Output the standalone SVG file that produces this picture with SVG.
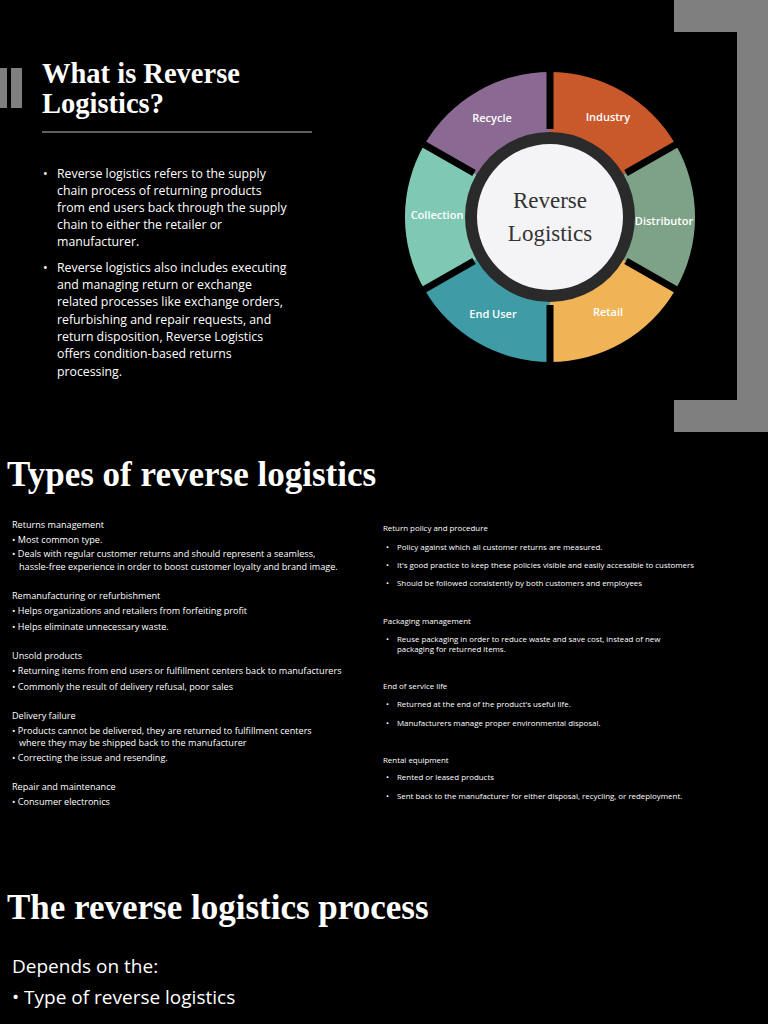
<svg xmlns="http://www.w3.org/2000/svg" width="768" height="1024" viewBox="0 0 768 1024">
<style>
.t{font-family:"Liberation Serif",serif;font-weight:bold;fill:#fff}
.b{font-family:"Open Sans","Liberation Sans",sans-serif;fill:#fff;font-size:12.3px}
.s{font-family:"Open Sans","Liberation Sans",sans-serif;fill:#fff;font-size:9.1px}
.r{font-family:"Open Sans","Liberation Sans",sans-serif;fill:#fff;font-size:7.9px}
.w{font-family:"Open Sans","Liberation Sans",sans-serif;fill:#fff;font-size:11px;font-weight:600;text-anchor:middle}
.gap{stroke:#000;stroke-width:7}
</style>
<rect width="768" height="1024" fill="#000"/>
<rect x="674" y="0" width="94" height="432" fill="#7f7f7f"/>
<rect x="674" y="32" width="63" height="368" fill="#000"/>
<rect x="0" y="68" width="7" height="40" fill="#7f7f7f"/>
<rect x="11" y="68" width="11" height="40" fill="#7f7f7f"/>
<text class="t" font-size="28.5" x="42" y="83">What is Reverse</text>
<text class="t" font-size="28.5" x="42" y="113">Logistics?</text>
<line x1="42" y1="132" x2="312" y2="132" stroke="#808080" stroke-width="1.5"/>
<g class="b">
<text x="43" y="178">•</text>
<text x="57" y="178">Reverse logistics refers to the supply</text>
<text x="57" y="195">chain process of returning products</text>
<text x="57" y="212">from end users back through the supply</text>
<text x="57" y="229">chain to either the retailer or</text>
<text x="57" y="246">manufacturer.</text>
<text x="43" y="272">•</text>
<text x="57" y="272">Reverse logistics also includes executing</text>
<text x="57" y="289">and managing return or exchange</text>
<text x="57" y="306">related processes like exchange orders,</text>
<text x="57" y="324">refurbishing and repair requests, and</text>
<text x="57" y="341">return disposition, Reverse Logistics</text>
<text x="57" y="358">offers condition-based returns</text>
<text x="57" y="376">processing.</text>
</g>
<g id="wheel">
<circle cx="550" cy="217" r="92" fill="#2a2a2a"/>
<g id="recycle"><path d="M424.4,144.5 A145,145 0 0 1 550,72 L550,132 A85,85 0 0 0 476.4,174.5 Z" fill="#8a6a93"/><text class="w" x="492" y="122">Recycle</text></g>
<g id="industry"><path d="M550,72 A145,145 0 0 1 675.6,144.5 L623.6,174.5 A85,85 0 0 0 550,132 Z" fill="#c9582a"/><text class="w" x="608" y="121">Industry</text></g>
<g id="distributor"><path d="M675.6,144.5 A145,145 0 0 1 675.6,289.5 L623.6,259.5 A85,85 0 0 0 623.6,174.5 Z" fill="#7ea287"/><text class="w" x="664" y="225">Distributor</text></g>
<g id="retail"><path d="M675.6,289.5 A145,145 0 0 1 550,362 L550,302 A85,85 0 0 0 623.6,259.5 Z" fill="#f0b457"/><text class="w" x="608" y="316">Retail</text></g>
<g id="enduser"><path d="M550,362 A145,145 0 0 1 424.4,289.5 L476.4,259.5 A85,85 0 0 0 550,302 Z" fill="#3f9ba6"/><text class="w" x="493" y="318">End User</text></g>
<g id="collection"><path d="M424.4,289.5 A145,145 0 0 1 424.4,144.5 L476.4,174.5 A85,85 0 0 0 476.4,259.5 Z" fill="#7fc8b4"/><text class="w" x="437" y="219">Collection</text></g>
<g class="gap">
<line x1="550" y1="129" x2="550" y2="65"/><line x1="550" y1="305" x2="550" y2="369"/>
<line x1="626" y1="173" x2="682" y2="141"/><line x1="626" y1="261" x2="682" y2="293"/>
<line x1="474" y1="173" x2="418" y2="141"/><line x1="474" y1="261" x2="418" y2="293"/>
</g>
<circle cx="550" cy="217" r="73" fill="#f4f4f6"/>
<text x="550" y="208" font-family="Liberation Serif,serif" font-size="23" fill="#333" text-anchor="middle">Reverse</text>
<text x="550" y="241" font-family="Liberation Serif,serif" font-size="23" fill="#333" text-anchor="middle">Logistics</text>
</g>
<text class="t" font-size="35" x="7" y="486">Types of reverse logistics</text>
<g class="s">
<text x="12" y="528">Returns management</text>
<text x="12" y="543">• Most common type.</text>
<text x="12" y="557">• Deals with regular customer returns and should represent a seamless,</text>
<text x="19" y="570">hassle-free experience in order to boost customer loyalty and brand image.</text>
<text x="12" y="599">Remanufacturing or refurbishment</text>
<text x="12" y="614">• Helps organizations and retailers from forfeiting profit</text>
<text x="12" y="630">• Helps eliminate unnecessary waste.</text>
<text x="12" y="659">Unsold products</text>
<text x="12" y="674">• Returning items from end users or fulfillment centers back to manufacturers</text>
<text x="12" y="690">• Commonly the result of delivery refusal, poor sales</text>
<text x="12" y="719">Delivery failure</text>
<text x="12" y="734">• Products cannot be delivered, they are returned to fulfillment centers</text>
<text x="19" y="746">where they may be shipped back to the manufacturer</text>
<text x="12" y="761">• Correcting the issue and resending.</text>
<text x="12" y="790">Repair and maintenance</text>
<text x="12" y="805">• Consumer electronics</text>
</g>
<g class="r">
<text x="383" y="531">Return policy and procedure</text>
<text x="386" y="550">•</text><text x="397" y="550">Policy against which all customer returns are measured.</text>
<text x="386" y="568">•</text><text x="397" y="568">It's good practice to keep these policies visible and easily accessible to customers</text>
<text x="386" y="586">•</text><text x="397" y="586">Should be followed consistently by both customers and employees</text>
<text x="383" y="624">Packaging management</text>
<text x="386" y="642">•</text><text x="397" y="642">Reuse packaging in order to reduce waste and save cost, instead of new</text>
<text x="397" y="652">packaging for returned items.</text>
<text x="383" y="689">End of service life</text>
<text x="386" y="707">•</text><text x="397" y="707">Returned at the end of the product's useful life.</text>
<text x="386" y="726">•</text><text x="397" y="726">Manufacturers manage proper environmental disposal.</text>
<text x="383" y="763">Rental equipment</text>
<text x="386" y="780">•</text><text x="397" y="780">Rented or leased products</text>
<text x="386" y="799">•</text><text x="397" y="799">Sent back to the manufacturer for either disposal, recycling, or redeployment.</text>
</g>
<text class="t" font-size="35" x="7" y="919">The reverse logistics process</text>
<text x="12" y="973" font-family="Open Sans,Liberation Sans,sans-serif" font-size="19" fill="#fff">Depends on the:</text>
<text x="12" y="1004" font-family="Open Sans,Liberation Sans,sans-serif" font-size="19" fill="#fff">• Type of reverse logistics</text>
</svg>
